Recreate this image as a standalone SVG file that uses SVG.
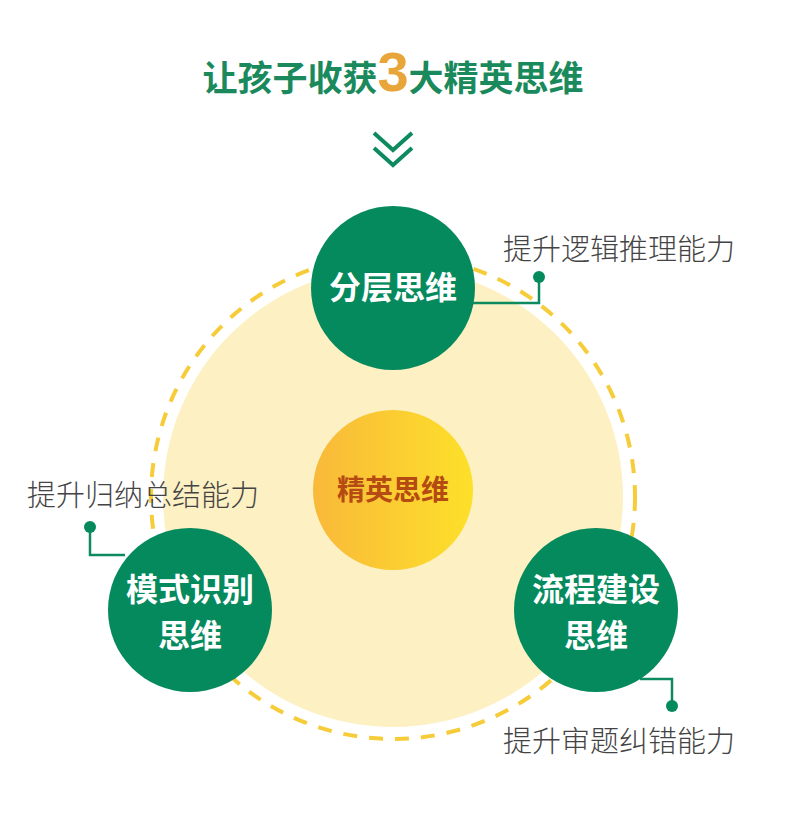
<svg xmlns="http://www.w3.org/2000/svg" width="790" height="830" viewBox="0 0 790 830">
<defs>
<style>
.t{font-family:"Noto Sans CJK SC","Noto Sans",sans-serif;font-weight:bold;fill:#1a8a5c;font-size:35px}
.n{font-family:"Noto Sans CJK SC","Noto Sans",sans-serif;font-weight:bold;fill:#fff;font-size:32px;text-anchor:middle}
.l{font-family:"Noto Sans CJK SC","Noto Sans",sans-serif;fill:#444;font-size:29px;font-weight:300}
.g{fill:#058a5e}
.c{fill:none;stroke:#0e8a5f;stroke-width:2.5}
</style>
<linearGradient id="cg" x1="0" y1="0" x2="1" y2="0">
<stop offset="0" stop-color="#f9b93a"/><stop offset="1" stop-color="#fde02a"/>
</linearGradient>
</defs>
<rect width="790" height="830" fill="#fff"/>
<g id="title">
<text x="393" y="91" text-anchor="middle"><tspan class="t">让孩子收获</tspan><tspan font-family="Liberation Sans,sans-serif" font-weight="bold" font-size="56" fill="#e8a63a">3</tspan><tspan class="t">大精英思维</tspan></text>
<path d="M374,133 L393,150 L412,133 M374,148 L393,165 L412,148" fill="none" stroke="#0e8a5f" stroke-width="4"/>
</g>
<g id="background">
<circle cx="393" cy="497" r="230" fill="#fdf0c2"/>
<circle cx="393" cy="497" r="242" fill="none" stroke="#f6cc3a" stroke-width="4" stroke-dasharray="14 12"/>
</g>
<g id="connectors">
<path class="c" d="M539,277 V303 H470"/><circle cx="539" cy="277" r="6" class="g"/>
<path class="c" d="M90,527 V555 H125"/><circle cx="90" cy="527" r="6" class="g"/>
<path class="c" d="M672,706 V679 H640"/><circle cx="672" cy="706" r="6" class="g"/>
</g>
<g id="center"><circle cx="393" cy="490" r="80" fill="url(#cg)"/>
<text x="393" y="500" class="n" style="fill:#b54a12;font-size:28px">精英思维</text></g>
<g id="top"><circle cx="393" cy="288" r="82" class="g"/><text x="393" y="299" class="n">分层思维</text></g>
<g id="left"><circle cx="190" cy="610" r="82" class="g"/><text x="190" y="601" class="n">模式识别</text><text x="190" y="647" class="n">思维</text></g>
<g id="right"><circle cx="596" cy="610" r="82" class="g"/><text x="596" y="601" class="n">流程建设</text><text x="596" y="647" class="n">思维</text></g>
<g id="labels">
<text x="503" y="260" class="l">提升逻辑推理能力</text>
<text x="27" y="506" class="l">提升归纳总结能力</text>
<text x="503" y="752" class="l">提升审题纠错能力</text>
</g>
</svg>
